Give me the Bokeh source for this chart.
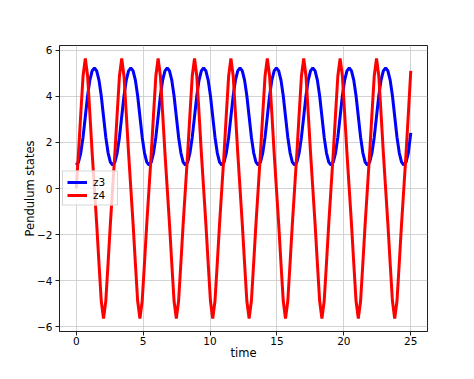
from bokeh.plotting import figure
from bokeh.models import Range1d, FixedTicker, Legend, LegendItem
from bokeh.embed import file_html
from bokeh.resources import INLINE

# time samples (s)
time = [
    0.00, 0.17, 0.34, 0.51, 0.68, 0.85, 1.02, 1.19, 1.36, 1.53, 1.70, 1.87, 2.04, 2.21, 2.38, 2.55,
    2.72, 2.89, 3.06, 3.23, 3.40, 3.57, 3.74, 3.91, 4.08, 4.25, 4.42, 4.59, 4.76, 4.93, 5.10, 5.27,
    5.44, 5.61, 5.78, 5.95, 6.12, 6.29, 6.46, 6.63, 6.80, 6.97, 7.14, 7.31, 7.48, 7.65, 7.82, 7.99,
    8.16, 8.33, 8.50, 8.67, 8.84, 9.01, 9.18, 9.35, 9.52, 9.69, 9.86, 10.03, 10.20, 10.37, 10.54, 10.71,
    10.88, 11.05, 11.22, 11.39, 11.56, 11.73, 11.90, 12.07, 12.24, 12.41, 12.58, 12.75, 12.92, 13.09, 13.26, 13.43,
    13.60, 13.77, 13.94, 14.11, 14.28, 14.45, 14.62, 14.79, 14.96, 15.13, 15.30, 15.47, 15.64, 15.81, 15.98, 16.15,
    16.32, 16.49, 16.66, 16.83, 17.00, 17.17, 17.34, 17.51, 17.68, 17.85, 18.02, 18.19, 18.36, 18.53, 18.70, 18.87,
    19.04, 19.21, 19.38, 19.55, 19.72, 19.89, 20.06, 20.23, 20.40, 20.57, 20.74, 20.91, 21.08, 21.25, 21.42, 21.59,
    21.76, 21.93, 22.10, 22.27, 22.44, 22.61, 22.78, 22.95, 23.12, 23.29, 23.46, 23.63, 23.80, 23.97, 24.14, 24.31,
    24.48, 24.65, 24.82, 25.00,
]

# pendulum angle
z3 = [
    1.02, 1.15, 1.55, 2.23, 3.13, 4.03, 4.71, 5.11, 5.24, 5.11, 4.71, 4.03, 3.13, 2.23, 1.55, 1.15,
    1.02, 1.15, 1.55, 2.23, 3.13, 4.03, 4.71, 5.11, 5.24, 5.11, 4.71, 4.03, 3.13, 2.23, 1.55, 1.15,
    1.02, 1.15, 1.55, 2.23, 3.13, 4.03, 4.71, 5.11, 5.24, 5.11, 4.71, 4.03, 3.13, 2.23, 1.55, 1.15,
    1.02, 1.15, 1.55, 2.23, 3.13, 4.03, 4.71, 5.11, 5.24, 5.11, 4.71, 4.03, 3.13, 2.23, 1.55, 1.15,
    1.02, 1.15, 1.55, 2.23, 3.13, 4.03, 4.71, 5.11, 5.24, 5.11, 4.71, 4.03, 3.13, 2.23, 1.55, 1.15,
    1.02, 1.15, 1.55, 2.23, 3.13, 4.03, 4.71, 5.11, 5.24, 5.11, 4.71, 4.03, 3.13, 2.23, 1.55, 1.15,
    1.02, 1.15, 1.55, 2.23, 3.13, 4.03, 4.71, 5.11, 5.24, 5.11, 4.71, 4.03, 3.13, 2.23, 1.55, 1.15,
    1.02, 1.15, 1.55, 2.23, 3.13, 4.03, 4.71, 5.11, 5.24, 5.11, 4.71, 4.03, 3.13, 2.23, 1.55, 1.15,
    1.02, 1.15, 1.55, 2.23, 3.13, 4.03, 4.71, 5.11, 5.24, 5.11, 4.71, 4.03, 3.13, 2.23, 1.55, 1.15,
    1.02, 1.15, 1.55, 2.42,
]

# pendulum angular velocity
z4 = [
    0.00, 1.55, 3.25, 4.89, 5.65, 4.89, 3.25, 1.55, 0.00, -1.55, -3.25, -4.89, -5.65, -4.89, -3.25, -1.55,
    0.00, 1.55, 3.25, 4.89, 5.65, 4.89, 3.25, 1.55, 0.00, -1.55, -3.25, -4.89, -5.65, -4.89, -3.25, -1.55,
    0.00, 1.55, 3.25, 4.89, 5.65, 4.89, 3.25, 1.55, 0.00, -1.55, -3.25, -4.89, -5.65, -4.89, -3.25, -1.55,
    0.00, 1.55, 3.25, 4.89, 5.65, 4.89, 3.25, 1.55, 0.00, -1.55, -3.25, -4.89, -5.65, -4.89, -3.25, -1.55,
    0.00, 1.55, 3.25, 4.89, 5.65, 4.89, 3.25, 1.55, 0.00, -1.55, -3.25, -4.89, -5.65, -4.89, -3.25, -1.55,
    0.00, 1.55, 3.25, 4.89, 5.65, 4.89, 3.25, 1.55, 0.00, -1.55, -3.25, -4.89, -5.65, -4.89, -3.25, -1.55,
    0.00, 1.55, 3.25, 4.89, 5.65, 4.89, 3.25, 1.55, 0.00, -1.55, -3.25, -4.89, -5.65, -4.89, -3.25, -1.55,
    0.00, 1.55, 3.25, 4.89, 5.65, 4.89, 3.25, 1.55, 0.00, -1.55, -3.25, -4.89, -5.65, -4.89, -3.25, -1.55,
    0.00, 1.55, 3.25, 4.89, 5.65, 4.89, 3.25, 1.55, 0.00, -1.55, -3.25, -4.89, -5.65, -4.89, -3.25, -1.55,
    0.00, 1.55, 3.25, 5.11,
]

x_ticks = [0, 5, 10, 15, 20, 25]
y_ticks = [-6, -4, -2, 0, 2, 4, 6]
series_names = ["z3", "z4"]
series_colors = ["#0000ff", "#ff0000"]

FONT = "DejaVu Sans"

p = figure(
    width=470, height=375,
    output_backend="svg", toolbar_location=None,
    x_range=Range1d(-1.25, 26.25), y_range=Range1d(-6.215, 6.215),
    min_border_left=59, min_border_right=43, min_border_top=45, min_border_bottom=44,
)
p.background_fill_color = "white"
p.border_fill_color = "white"
p.outline_line_color = "#222222"
p.outline_line_width = 1

r3 = p.line(time, z3, line_color=series_colors[0], line_width=3)
r4 = p.line(time, z4, line_color=series_colors[1], line_width=3)

p.xaxis.ticker = FixedTicker(ticks=x_ticks)
p.yaxis.ticker = FixedTicker(ticks=y_ticks)
p.yaxis.major_label_overrides = {t: (("\u2212" + str(-t)) if t < 0 else str(t)) for t in y_ticks}

for ax in (p.xaxis[0], p.yaxis[0]):
    ax.axis_line_color = "#222222"
    ax.major_tick_line_color = "#222222"
    ax.major_tick_out = 4
    ax.major_tick_in = 0
    ax.minor_tick_line_color = None
    ax.major_label_text_font = FONT
    ax.major_label_text_font_size = "10.5px"
    ax.major_label_text_color = "#000000"
    ax.axis_label_text_font = FONT
    ax.axis_label_text_font_size = "11.5px"
    ax.axis_label_text_font_style = "normal"
    ax.axis_label_text_color = "#000000"

p.xaxis.major_label_standoff = 1
p.yaxis.major_label_standoff = 3
p.xaxis.axis_label = "time"
p.yaxis.axis_label = "Pendulum states"
p.xaxis.axis_label_standoff = -2
p.yaxis.axis_label_standoff = -3

p.xgrid.grid_line_color = "#c8c8c8"
p.ygrid.grid_line_color = "#c8c8c8"
p.xgrid.grid_line_width = 0.8
p.ygrid.grid_line_width = 0.8

legend = Legend(
    items=[LegendItem(label=series_names[0], renderers=[r3]),
           LegendItem(label=series_names[1], renderers=[r4])],
    location="left",
)
legend.margin = 3
legend.padding = 4
legend.spacing = 1
legend.glyph_width = 20
legend.glyph_height = 11
legend.label_height = 11
legend.label_standoff = 6
legend.label_text_font = FONT
legend.label_text_font_size = "10.5px"
legend.label_text_color = "#000000"
legend.border_line_color = "#cccccc"
legend.border_line_alpha = 0.8
legend.background_fill_color = "white"
legend.background_fill_alpha = 0.8
p.add_layout(legend)

open("out.html", "w").write(file_html(p, INLINE))
